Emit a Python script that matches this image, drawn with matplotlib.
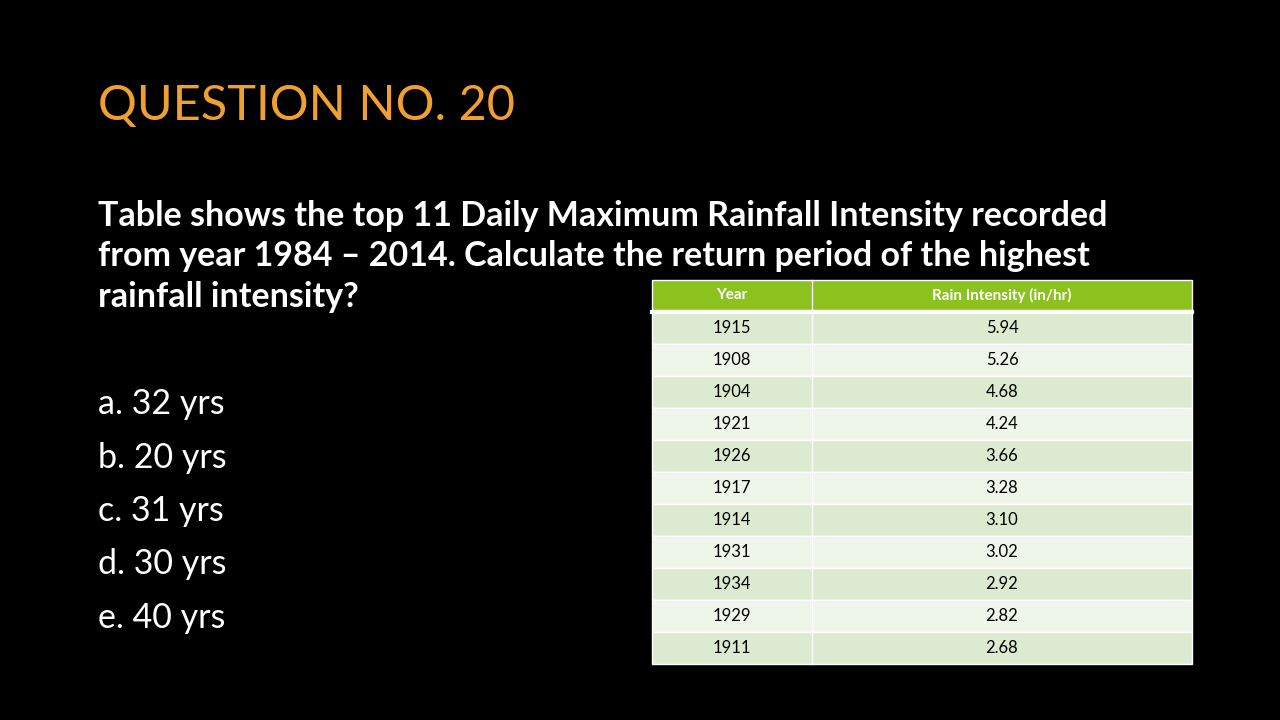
import matplotlib
matplotlib.use("Agg")
import matplotlib.pyplot as plt
from matplotlib.patches import Rectangle

years = [1915, 1908, 1904, 1921, 1926, 1917, 1914, 1931, 1934, 1929, 1911]
intensity = [5.94, 5.26, 4.68, 4.24, 3.66, 3.28, 3.10, 3.02, 2.92, 2.82, 2.68]
headers = ["Year", "Rain Intensity (in/hr)"]
options = ["a. 32 yrs", "b. 20 yrs", "c. 31 yrs", "d. 30 yrs", "e. 40 yrs"]

W, H = 1280, 720
fig = plt.figure(figsize=(12.8, 7.2), dpi=100, facecolor="black")
ax = fig.add_axes([0, 0, 1, 1])
ax.set_xlim(0, W); ax.set_ylim(H, 0); ax.axis("off")
ax.set_facecolor("black")
F = "Lato"

ax.text(98, 106, "QUESTION NO. 20", color="#F0A030", fontsize=35, family=F, va="center")
q = ["Table shows the top 11 Daily Maximum Rainfall Intensity recorded",
     "from year 1984 \u2013 2014. Calculate the return period of the highest",
     "rainfall intensity?"]
for i, line in enumerate(q):
    ax.text(98, 216 + 40.5 * i, line, color="white", fontsize=24.5, family=F,
            fontweight="bold", va="center")
for i, o in enumerate(options):
    ax.text(98, 404 + 53.5 * i, o, color="white", fontsize=24.5, family=F, va="center")

x0, xm, x1 = 652, 812, 1192
hy0, hy1 = 280, 310
ax.add_patch(Rectangle((x0, hy0), x1 - x0, hy1 - hy0, facecolor="#8CC21E", edgecolor="white", lw=1))
ax.plot([xm, xm], [hy0, hy1], color="white", lw=1)
ax.text((x0 + xm) / 2, (hy0 + hy1) / 2, headers[0], color="white", fontsize=11, family=F, fontweight="bold", ha="center", va="center")
ax.text((xm + x1) / 2, (hy0 + hy1) / 2, headers[1], color="white", fontsize=11, family=F, fontweight="bold", ha="center", va="center")
ax.plot([x0, x1], [hy1 + 1.5, hy1 + 1.5], color="white", lw=3)
rh = 32
for i, (y, v) in enumerate(zip(years, intensity)):
    top = 312 + rh * i
    fc = "#DCEBD0" if i % 2 == 0 else "#EEF5E9"
    ax.add_patch(Rectangle((x0, top), x1 - x0, rh, facecolor=fc, edgecolor="white", lw=1))
    ax.plot([xm, xm], [top, top + rh], color="white", lw=1)
    ax.text((x0 + xm) / 2, top + rh / 2, str(y), color="black", fontsize=12, family=F, ha="center", va="center")
    ax.text((xm + x1) / 2, top + rh / 2, f"{v:.2f}", color="black", fontsize=12, family=F, ha="center", va="center")

fig.savefig("out.png", dpi=100, facecolor="black")
